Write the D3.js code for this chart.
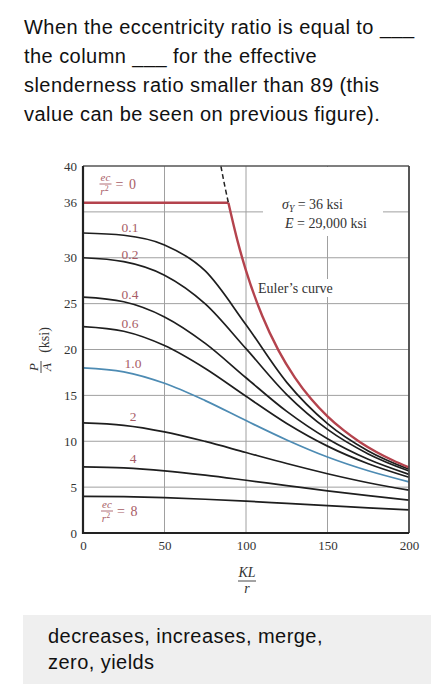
<!DOCTYPE html>
<html>
<head>
<meta charset="utf-8">
<script src="https://cdn.jsdelivr.net/npm/d3@7"></script>
<style>
  body { margin: 0; background: #fff; }
  svg { display: block; }
</style>
</head>
<body>
<div class="chart-container"></div>
<script>
// slenderness ratio KL/r where curves were read
const slenderness = [0, 25, 50, 75, 100, 125, 150, 175, 200];

// P/A (ksi), one array per ec/r^2
const stress01 = [32.7, 32.45, 31.4, 28.56, 22.7, 16.42, 11.93, 8.95, 6.94];
const stress02 = [30, 29.58, 28.1, 24.97, 20.09, 15.09, 11.29, 8.62, 6.75];
const stress04 = [25.7, 25.2, 23.55, 20.67, 16.92, 13.25, 10.27, 8.03, 6.39];
const stress06 = [22.5, 21.99, 20.43, 17.93, 14.9, 11.94, 9.47, 7.55, 6.08];
const stress10 = [18, 17.57, 16.32, 14.43, 12.25, 10.14, 8.28, 6.78, 5.57];
const stress2 = [12, 11.74, 11.03, 9.98, 8.77, 7.57, 6.46, 5.48, 4.67];
const stress4 = [7.2, 7.09, 6.78, 6.31, 5.75, 5.17, 4.6, 4.07, 3.58];
const stress8 = [4, 3.96, 3.85, 3.68, 3.47, 3.23, 2.99, 2.74, 2.51];

const eccLabels = ['0.1', '0.2', '0.4', '0.6', '1.0', '2', '4', '8'];

// ec/r^2 = 0 : yield plateau then Euler's curve
const yieldX = [0, 89.2];
const yieldStress = [36, 36];
const eulerX = [89.2, 95, 100, 110, 120, 130, 140, 150, 160, 170, 180, 190, 200];
const eulerStress = [36, 31.7, 28.6, 23.65, 19.88, 16.94, 14.6, 12.72, 11.18, 9.9, 8.83, 7.93, 7.16];
const eulerDashX = [84.6, 87, 89.2];
const eulerDashStress = [40, 37.8, 36];

const xTicks = [0, 50, 100, 150, 200];
const yTicks = [0, 5, 10, 15, 20, 25, 30, 36, 40];
const yGrid = [5, 10, 15, 20, 25, 30, 35];

const questionLines = [
    'When the eccentricity ratio is equal to ___',
    'the column ___ for the effective',
    'slenderness ratio smaller than 89 (this',
    'value can be seen on previous figure).'
];
const answerLines = ['decreases, increases, merge,', 'zero, yields'];

const sans = '"Liberation Sans", Arial, Helvetica, sans-serif';
const serif = '"Liberation Serif", "Times New Roman", serif';
const labelColor = '#a85d66';
const red = '#b4434d';
const blue = '#4d8bb3';

const svg = d3.select('.chart-container')
              .append('svg')
              .attr('width', 442)
              .attr('height', 700);

svg.append('rect').attr('width', 442).attr('height', 700).attr('fill', '#fff');

// question text
svg.append('g').selectAll('text')
   .data(questionLines).enter()
   .append('text')
   .attr('x', 24)
   .attr('y', (d, i) => 34 + i * 29)
   .text(d => d)
   .style('font-family', sans)
   .style('font-size', '20px')
   .style('letter-spacing', '0.45px')
   .style('fill', '#111');

const xScale = d3.scaleLinear().domain([0, 200]).range([83, 409]);
const yScale = d3.scaleLinear().domain([0, 40]).range([533, 166]);

const chart = svg.append('g').attr('class', 'chart');

// grid
chart.append('g').selectAll('line')
     .data(yGrid).enter()
     .append('line')
     .attr('x1', xScale(0)).attr('x2', xScale(200))
     .attr('y1', d => yScale(d)).attr('y2', d => yScale(d))
     .style('stroke', '#a0a0a0').style('stroke-width', 1);
chart.append('g').selectAll('line')
     .data([50, 100, 150]).enter()
     .append('line')
     .attr('x1', d => xScale(d)).attr('x2', d => xScale(d))
     .attr('y1', yScale(0)).attr('y2', yScale(40))
     .style('stroke', '#a0a0a0').style('stroke-width', 1);

// white patches behind the annotations
chart.append('rect').attr('x', 263).attr('y', 167).attr('width', 120).attr('height', 69).attr('fill', '#fff');
chart.append('rect').attr('x', 255).attr('y', 279).attr('width', 80).attr('height', 18).attr('fill', '#fff');

const lineGen = d3.line()
                  .x(d => xScale(d.x))
                  .y(d => yScale(d.y))
                  .curve(d3.curveMonotoneX);

const series = [stress01, stress02, stress04, stress06, stress10, stress2, stress4, stress8]
    .map((values, i) => ({
        name: eccLabels[i],
        color: eccLabels[i] === '1.0' ? blue : '#1e1e1e',
        values: slenderness.map((x, j) => ({x: x, y: values[j]}))
    }));

chart.append('g').selectAll('.ecc-curve')
     .data(series).enter()
     .append('path')
     .attr('class', 'ecc-curve')
     .attr('d', d => lineGen(d.values))
     .style('fill', 'none')
     .style('stroke', d => d.color)
     .style('stroke-width', 1.7);

// Euler's curve and the yield plateau
const toPts = (xs, ys) => xs.map((x, i) => ({x: x, y: ys[i]}));
chart.append('path')
     .attr('d', d3.line().x(d => xScale(d.x)).y(d => yScale(d.y))(toPts(yieldX, yieldStress)))
     .style('fill', 'none').style('stroke', red).style('stroke-width', 2.6);
chart.append('path')
     .attr('d', lineGen(toPts(eulerX, eulerStress)))
     .style('fill', 'none').style('stroke', red).style('stroke-width', 2.4);
chart.append('path')
     .attr('d', lineGen(toPts(eulerDashX, eulerDashStress)))
     .style('fill', 'none').style('stroke', '#222').style('stroke-width', 1.5)
     .style('stroke-dasharray', '5,3');

// frame
chart.append('line').attr('x1', xScale(0)).attr('x2', xScale(200)).attr('y1', yScale(40)).attr('y2', yScale(40))
     .style('stroke', '#555').style('stroke-width', 1.6);
chart.append('line').attr('x1', xScale(200)).attr('x2', xScale(200)).attr('y1', yScale(0)).attr('y2', yScale(40))
     .style('stroke', '#444').style('stroke-width', 1.8);
chart.append('line').attr('x1', xScale(0)).attr('x2', xScale(0)).attr('y1', yScale(0) + 1).attr('y2', yScale(40))
     .style('stroke', '#222').style('stroke-width', 2.2);
chart.append('line').attr('x1', xScale(0) - 1).attr('x2', xScale(200)).attr('y1', yScale(0)).attr('y2', yScale(0))
     .style('stroke', '#222').style('stroke-width', 2.2);

// axes
const xAxis = d3.axisBottom(xScale).tickValues(xTicks).tickSize(0).tickPadding(8);
chart.append('g').attr('class', 'xaxis')
     .attr('transform', `translate(0, ${yScale(0)})`)
     .call(xAxis);
const yAxis = d3.axisLeft(yScale).tickValues(yTicks).tickSize(0).tickPadding(6);
chart.append('g').attr('class', 'yaxis')
     .attr('transform', `translate(${xScale(0)}, 0)`)
     .call(yAxis);
chart.selectAll('.xaxis .domain, .yaxis .domain').remove();
chart.selectAll('.xaxis text, .yaxis text')
     .style('font-family', serif).style('font-size', '13px').style('fill', '#333');

// curve labels
const labelPos = [
    {t: '0.1', x: 130, y: 232},
    {t: '0.2', x: 130, y: 259},
    {t: '0.4', x: 130, y: 299},
    {t: '0.6', x: 130, y: 328},
    {t: '1.0', x: 133, y: 368},
    {t: '2', x: 133, y: 421},
    {t: '4', x: 133, y: 463}
];
chart.append('g').selectAll('text')
     .data(labelPos).enter()
     .append('text')
     .attr('x', d => d.x).attr('y', d => d.y)
     .attr('text-anchor', 'middle')
     .text(d => d.t)
     .style('font-family', serif).style('font-size', '13.5px').style('fill', labelColor);

function ratioLabel(cx, cy, value){
    const g = chart.append('g').style('font-family', serif).style('fill', labelColor);
    g.append('text').attr('x', cx).attr('y', cy - 3.5).attr('text-anchor', 'middle')
     .style('font-size', '11px').style('font-style', 'italic').text('ec');
    g.append('line').attr('x1', cx - 6).attr('x2', cx + 6).attr('y1', cy).attr('y2', cy)
     .style('stroke', labelColor).style('stroke-width', 0.9);
    const r = g.append('text').attr('x', cx - 1).attr('y', cy + 10.5).attr('text-anchor', 'middle')
               .style('font-size', '11px').style('font-style', 'italic');
    r.append('tspan').text('r');
    r.append('tspan').attr('dy', -4).style('font-size', '8px').style('font-style', 'normal').text('2');
    g.append('text').attr('x', cx + 10).attr('y', cy + 4.5)
     .style('font-size', '14px').style('word-spacing', '2px').text('= ' + value);
}
ratioLabel(105.5, 184, '0');
ratioLabel(107, 511, '8');

// material annotation
const ann = chart.append('g').style('font-family', serif).style('font-size', '14px').style('fill', '#333');
const sig = ann.append('text').attr('x', 282).attr('y', 209);
sig.append('tspan').style('font-style', 'italic').text('σ');
sig.append('tspan').attr('dy', 2.5).style('font-size', '9.5px').style('font-style', 'italic').text('Y');
sig.append('tspan').attr('dy', -2.5).text(' = 36 ksi');
const em = ann.append('text').attr('x', 285).attr('y', 228);
em.append('tspan').style('font-style', 'italic').text('E');
em.append('tspan').text(' = 29,000 ksi');
ann.append('text').attr('x', 258).attr('y', 293).text('Euler\u2019s curve');

// axis titles
const yTitle = chart.append('g')
                    .attr('transform', 'translate(41, 367) rotate(-90)')
                    .style('font-family', serif).style('fill', '#333');
yTitle.append('text').attr('x', 0).attr('y', -3).attr('text-anchor', 'middle')
      .style('font-size', '13px').style('font-style', 'italic').text('P');
yTitle.append('line').attr('x1', -6).attr('x2', 6).attr('y1', 0).attr('y2', 0)
      .style('stroke', '#333').style('stroke-width', 0.9);
yTitle.append('text').attr('x', 0).attr('y', 10).attr('text-anchor', 'middle')
      .style('font-size', '13px').style('font-style', 'italic').text('A');
yTitle.append('text').attr('x', 27).attr('y', 8).attr('text-anchor', 'middle')
      .style('font-size', '14px').text('(ksi)');

const xTitle = chart.append('g').style('font-family', serif).style('fill', '#333');
xTitle.append('text').attr('x', 247).attr('y', 577).attr('text-anchor', 'middle')
      .style('font-size', '14px').style('font-style', 'italic').text('KL');
xTitle.append('line').attr('x1', 238).attr('x2', 256).attr('y1', 581).attr('y2', 581)
      .style('stroke', '#333').style('stroke-width', 0.9);
xTitle.append('text').attr('x', 247).attr('y', 593).attr('text-anchor', 'middle')
      .style('font-size', '14px').style('font-style', 'italic').text('r');

// answer box
svg.append('rect').attr('x', 23).attr('y', 615).attr('width', 408).attr('height', 69).attr('fill', '#efefef');
svg.append('g').selectAll('text')
   .data(answerLines).enter()
   .append('text')
   .attr('x', 48)
   .attr('y', (d, i) => 643 + i * 26)
   .text(d => d)
   .style('font-family', sans)
   .style('font-size', '20px')
   .style('letter-spacing', '0.45px')
   .style('fill', '#111');
</script>
</body>
</html>
